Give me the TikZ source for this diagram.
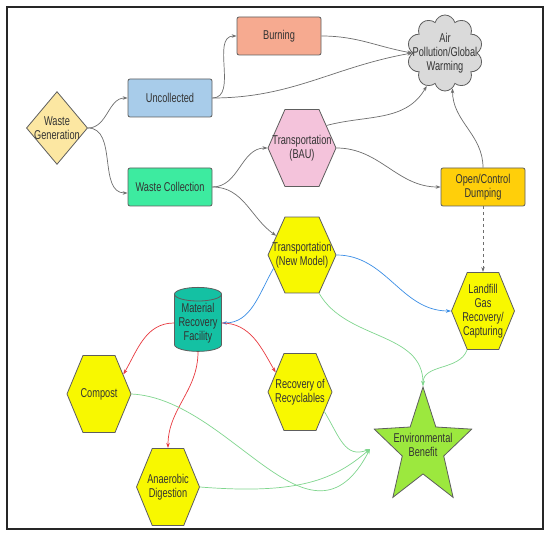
\documentclass[tikz,border=0pt]{standalone}
\usepackage{fontspec}
\setmainfont{Liberation Sans}[FakeStretch=0.72]
\usepackage{xcolor}
\usetikzlibrary{shapes.geometric}
\usetikzlibrary{shapes.symbols}
\usetikzlibrary{arrows.meta}
\usetikzlibrary{math}

\definecolor{bordergray}{HTML}{5E5E5E}
\definecolor{textgray}{HTML}{333333}
\definecolor{linegray}{HTML}{6E6E6E}
\definecolor{genyellow}{HTML}{FCE7A2}
\definecolor{uncblue}{HTML}{A8CCEA}
\definecolor{colgreen}{HTML}{3DEBA0}
\definecolor{burnsalmon}{HTML}{F6AA90}
\definecolor{cloudgray}{HTML}{DADADA}
\definecolor{bauping}{HTML}{F4C3DB}
\definecolor{dumpgold}{HTML}{FFCF0A}
\definecolor{hexyellow}{HTML}{F8F800}
\definecolor{mrfteal}{HTML}{14C1A3}
\definecolor{starlime}{HTML}{9CE83E}
\definecolor{arrowblue}{HTML}{3B8EE6}
\definecolor{arrowred}{HTML}{E8393F}
\definecolor{arrowgreen}{HTML}{80D68E}

\begin{document}
\begin{tikzpicture}[x=1pt,y=1pt,line width=0.8pt,
    font=\fontsize{12.8}{14}\selectfont,
    every node/.style={text=textgray, align=center},
    boxnode/.style={rectangle, rounded corners=2pt, draw=bordergray,
      minimum width=84pt, minimum height=38pt, inner sep=1pt},
    hexnode/.style={regular polygon, regular polygon sides=6, draw=bordergray,
      inner sep=0pt, transform shape},
    garrow/.style={draw=linegray, line width=0.7pt,
      -{Stealth[length=5pt,width=3.5pt]}},
    barrow/.style={garrow, draw=arrowblue},
    rarrow/.style={garrow, draw=arrowred},
    larrow/.style={garrow, draw=arrowgreen}]

  \tikzmath{
    \cloudsize = 76;    % outer size of the cloud
    \starradius = 61;   % outer radius of the star
    \starsquash = 0.84; % horizontal squeeze of the star
    \hexstretch = 1.39; % vertical stretch of the hexagons
  }

  % canvas and frame
  \fill[white] (0,0) rectangle (550,-537);
  \useasboundingbox (0,0) rectangle (550,-537);
  \draw[line width=1.5pt, black!85] (7,-7) rectangle (543,-529);

  % sources
  \node[diamond, aspect=0.84, draw=bordergray, fill=genyellow, inner sep=-1pt]
    (WG) at (57,-128) {Waste\\Generation};
  \node[boxnode, fill=uncblue] (UC) at (170,-98) {Uncollected};
  \node[boxnode, fill=colgreen] (WC) at (170,-187) {Waste Collection};
  \node[boxnode, fill=burnsalmon] (BU) at (279,-36) {Burning};

  % air pollution cloud
  \node[cloud, cloud puffs=10, aspect=1, draw=bordergray, fill=cloudgray,
    minimum width=\cloudsize pt, minimum height=\cloudsize pt, inner sep=0pt]
    (AP) at (445,-53) {};
  \node (APtext) at (AP) {Air\\Pollution/Global\\Warming};

  % transport and disposal
  \node[hexnode, fill=bauping, minimum size=68pt, shift={(302,-148)},
    yscale=1.31] (TB) at (0,0) {};
  \node (TBtext) at (TB) {Transportation\\(BAU)};
  \node[boxnode, fill=dumpgold] (OD) at (483,-187) {Open/Control\\Dumping};
  \node[hexnode, fill=hexyellow, minimum size=68pt, shift={(302,-255)},
    yscale=1.29] (TN) at (0,0) {};
  \node (TNtext) at (TN) {Transportation\\(New Model)};
  \node[hexnode, fill=hexyellow, minimum size=63pt, shift={(483,-311)},
    yscale=1.41] (LG) at (0,0) {};
  \node (LGtext) at (LG) {Landfill\\Gas\\Recovery/\\Capturing};

  % recovery
  \node[cylinder, shape border rotate=90, aspect=0.35, draw=bordergray,
    fill=mrfteal, minimum width=47pt, minimum height=64pt, inner sep=0pt]
    (MR) at (198,-323) {Material\\Recovery\\Facility};
  \node[hexnode, fill=hexyellow, minimum size=64pt, shift={(99,-394)},
    yscale=\hexstretch] (CP) at (0,0) {};
  \node (CPtext) at (CP) {Compost};
  \node[hexnode, fill=hexyellow, minimum size=64pt, shift={(300,-392)},
    yscale=\hexstretch] (RR) at (0,0) {};
  \node (RRtext) at (RR) {Recovery of\\Recyclables};
  \node[hexnode, fill=hexyellow, minimum size=63pt, shift={(168,-487)},
    yscale=1.41] (AD) at (0,0) {};
  \node (ADtext) at (AD) {Anaerobic\\Digestion};

  % environmental benefit star
  \node[star, star points=5, star point ratio=2.35, draw=bordergray,
    fill=starlime, minimum size=2*\starradius pt, inner sep=0pt,
    transform shape, shift={(423,-448)}, xscale=\starsquash] (EB) at (0,0) {};
  \node (EBtext) at (423,-445) {Environmental\\Benefit};
  \coordinate (ebin) at (370,-449);

  % gray flows
  \draw[garrow] (WG.east) to[out=0,in=180] (UC.west);
  \draw[garrow] (WG.east) to[out=0,in=180] ([yshift=-6pt]WC.west);
  \draw[garrow] (UC.east) to[out=0,in=180] (BU.west);
  \draw[garrow] (UC.east) to[out=0,in=190] (AP.west);
  \draw[garrow] (BU.east) to[out=0,in=170] (AP.west);
  \draw[garrow] (WC.east) to[out=0,in=180] (TB.west);
  \draw[garrow] (WC.east) to[out=0,in=145] (TN.150);
  \draw[garrow] (TB.35) to[out=15,in=240] (AP.-119);
  \draw[garrow] (TB.east) to[out=0,in=180] (OD.west);
  \draw[garrow] (OD.north) to[out=90,in=-90] (AP.-78);
  \draw[garrow, dashed] (OD.south) -- (LG.north);

  % blue flows
  \draw[barrow] (TN.200) to[out=240,in=0] (MR.east);
  \draw[barrow] (TN.east) to[out=0,in=180] (LG.west);

  % red flows
  \draw[rarrow] (MR.west) to[out=180,in=60] (CP.30);
  \draw[rarrow] (MR.south) to[out=-90,in=90] (AD.north);
  \draw[rarrow] (MR.east) to[out=0,in=120] (RR.150);

  % green flows
  \draw[larrow] (TN.-60) to[out=-60,in=90] (EB.north);
  \draw[larrow] (LG.-120) to[out=-110,in=90] (EB.north);
  \draw[larrow] (CP.east) .. controls +(100,-5) and +(-60,-115) .. (ebin);
  \draw[larrow] (AD.east) .. controls +(100,-8) and +(-35,-30) .. (ebin);
  \draw[larrow] (RR.-30) .. controls +(15,-25) and +(-25,-10) .. (ebin);

\end{tikzpicture}
\end{document}
